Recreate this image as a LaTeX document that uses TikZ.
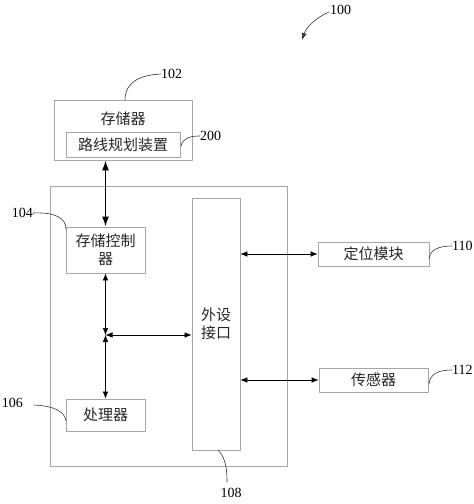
\documentclass[tikz,border=0pt]{standalone}
\usepackage{fontspec}
\setmainfont{Liberation Serif}
\newfontfamily\cjk{Noto Sans CJK SC}
\usetikzlibrary{arrows.meta}
\tikzset{
  box/.style={draw=gray!70,line width=0.8pt,inner sep=0pt},
  zh/.style={font=\cjk\fontsize{15}{18}\selectfont,text=black!85},
  num/.style={font=\fontsize{14}{16}\selectfont,inner sep=0pt},
  lead/.style={line width=0.6pt,black!80},
  link/.style={<->,line width=0.6pt},
}
\begin{document}
\begin{tikzpicture}[x=1pt,y=-1pt,line cap=round,line join=round,>={Latex[length=7pt,width=5.5pt]}]
  \useasboundingbox (0,0) rectangle (474,504);
  % memory with route planning device
  \node[box,minimum width=138pt,minimum height=60pt] (mem) at (123,130) {};
  \node[zh,inner sep=0pt] (memtxt) at (123,119) {存储器};
  \node[box,zh,minimum width=114pt,minimum height=25pt] (route) at (123,144.5) {路线规划装置};
  % main unit
  \node[box,minimum width=237pt,minimum height=280pt] (unit) at (168.5,326) {};
  \node[box,zh,align=center,minimum width=48pt,minimum height=252pt] (iface) at (216,324) {外设\\接口};
  \node[box,zh,align=center,minimum width=79pt,minimum height=46pt] (ctrl) at (105.5,250) {存储控制\\器};
  \node[box,zh,minimum width=79pt,minimum height=32pt] (cpu) at (105.5,415) {处理器};
  % peripherals
  \node[box,zh,minimum width=111pt,minimum height=24pt] (pos) at (373.5,254) {定位模块};
  \node[box,zh,minimum width=109pt,minimum height=24pt] (sens) at (373.5,380) {传感器};
  \coordinate (jn) at (105.5,335);
  % connectors
  \draw[<->,line width=1.4pt,>={Latex[length=10pt,width=7pt]}] (ctrl.north |- mem.south) -- (ctrl.north);
  \draw[link] (ctrl.south) -- (jn);
  \draw[link] (cpu.north) -- (jn);
  \draw[link] (jn) -- (jn -| iface.west);
  \draw[link] (iface.east |- pos.west) -- (pos.west);
  \draw[link] (iface.east |- sens.west) -- (sens.west);
  % reference numerals
  \node[num,anchor=south west] (n100) at (330,15) {100};
  \draw[lead,-{Latex[length=7pt,width=5pt]}] (n100.south west) ++(-1,-3) .. controls (315,18) and (306,28) .. (302,40);
  \node[num,anchor=west] (n102) at (161,74) {102};
  \draw[lead] (125,100) .. controls (125,82) and (140,75) .. (n102.west);
  \node[num,anchor=west] (n200) at (200,136) {200};
  \draw[lead] (181,146) .. controls (183,138) and (190,136) .. (n200.west);
  \node[num,anchor=east] (n104) at (33,213) {104};
  \draw[lead] (n104.east) .. controls (55,212) and (66,218) .. (66,229);
  \node[num,anchor=east] (n106) at (23,403) {106};
  \draw[lead] (34,405) .. controls (55,406) and (65,412) .. (66,421);
  \node[num,anchor=north] (n108) at (231,488) {108};
  \draw[lead] (218,450) .. controls (226,458) and (227,470) .. (227,482);
  \node[num,anchor=west] (n110) at (452,246) {110};
  \draw[lead] (429,259) .. controls (430,250) and (438,246) .. (n110.west);
  \node[num,anchor=west] (n112) at (452,370) {112};
  \draw[lead] (429,384) .. controls (430,374) and (438,370) .. (n112.west);
\end{tikzpicture}
\end{document}
